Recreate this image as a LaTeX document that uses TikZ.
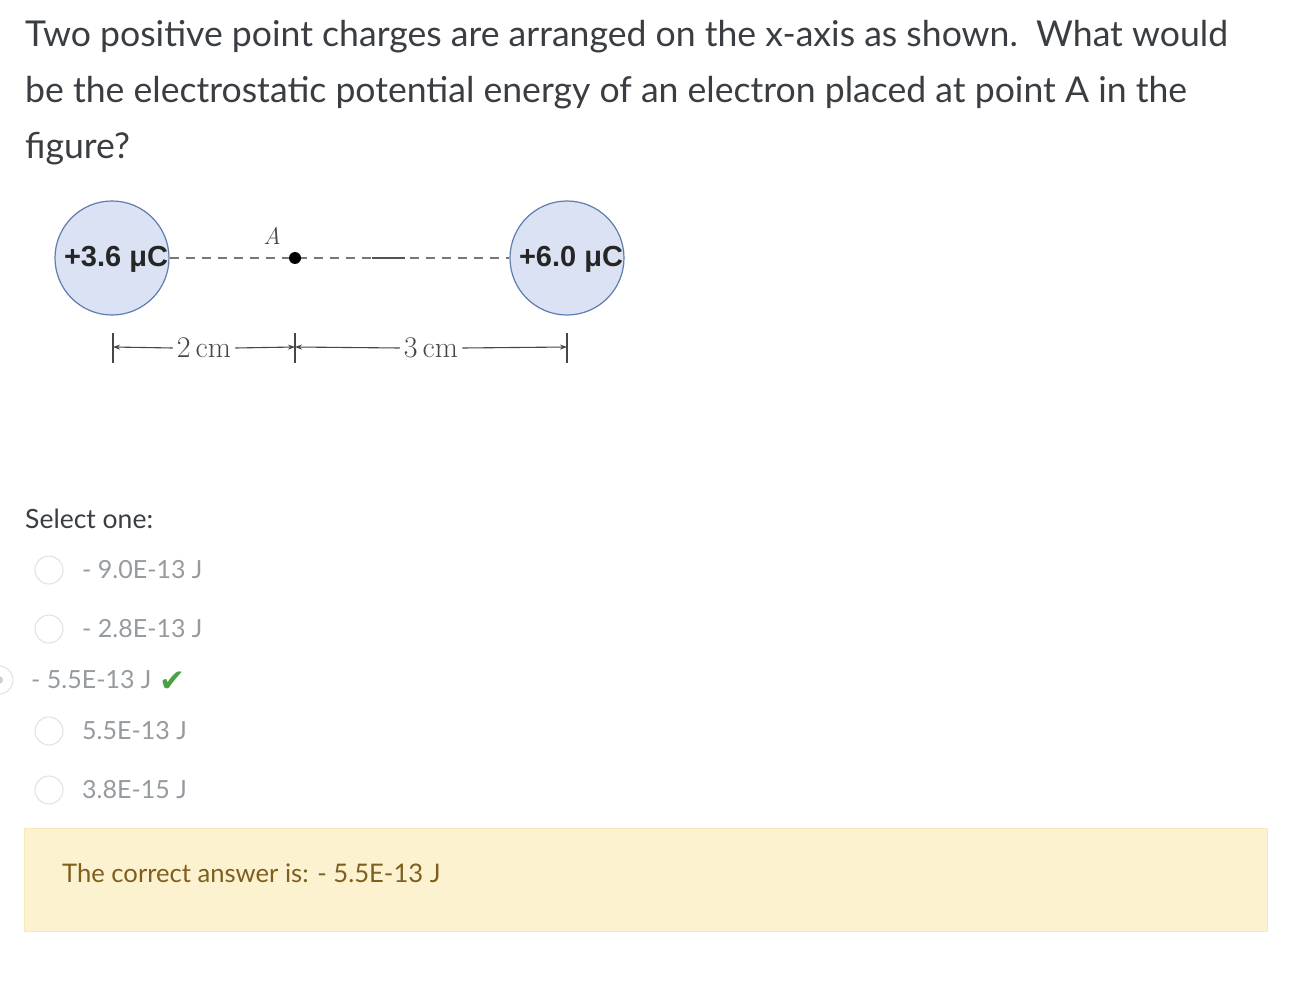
\documentclass[tikz,border=0pt]{standalone}
\usepackage{fontspec}
\setmainfont{Lato}
\newfontfamily\chargefont{Liberation Sans}
\newfontfamily\symfont{DejaVu Sans}
\newfontfamily\lmfont{Latin Modern Roman}
\usetikzlibrary{arrows.meta}
\definecolor{titlecol}{RGB}{58,62,66}
\definecolor{optcol}{RGB}{150,155,160}
\definecolor{circfill}{RGB}{218,226,243}
\definecolor{circdraw}{RGB}{95,125,175}
\definecolor{dashcol}{RGB}{120,120,120}
\definecolor{boxfill}{RGB}{252,242,208}
\definecolor{boxdraw}{RGB}{250,232,185}
\definecolor{anscol}{RGB}{125,95,30}
\definecolor{checkcol}{RGB}{76,160,70}
\definecolor{radiocol}{RGB}{225,225,225}
\definecolor{dimcol}{RGB}{70,70,70}
\tikzset{
  titletext/.style={anchor=base west, inner sep=0pt, text=titlecol, font=\fontsize{35.6}{40}\selectfont},
  opttext/.style={anchor=base west, inner sep=0pt, text=optcol, font=\fontsize{25}{28}\selectfont},
  charge/.style={circle, minimum size=114pt, fill=circfill, draw=circdraw, line width=1.2pt, inner sep=0pt},
  chargelabel/.style={inner sep=0pt, font=\chargefont\bfseries\fontsize{29}{32}\selectfont, text=black!85},
  radio/.style={circle, minimum size=28pt, draw=radiocol, line width=1pt, inner sep=0pt},
  dimlabel/.style={inner sep=0pt, font=\lmfont\fontsize{30}{32}\selectfont, text=dimcol},
  dimline/.style={draw=dimcol, line width=1.1pt},
  tick/.style={draw=dimcol, line width=1.6pt},
}
\begin{document}
\begin{tikzpicture}[x=1pt,y=-1pt]
\useasboundingbox[fill=white] (0,0) rectangle (1290,984);
% title
\node[titletext] (t1) at (25,47) {Two positive point charges are arranged on the x-axis as shown.\ \ What would};
\node[titletext] (t2) at (25,103) {be the electrostatic potential energy of an electron placed at point A in the};
\node[titletext] (t3) at (25,159) {figure?};
% diagram
\node[charge] (q1) at (112,258) {};
\node[charge] (q2) at (567,258) {};
\node[chargelabel] (l1) at (116,259) {+3.6 μC};
\node[chargelabel] (l2) at (571,259) {+6.0 μC};
\coordinate (a) at (295,258);
\draw[dashcol, line width=1.2pt, dash pattern=on 9pt off 7pt] (q1.east) -- (a) -- (q2.west);
\draw[dashcol!70!black, line width=1.6pt] (372,258) -- (405,258);
\fill[black] (a) circle (6pt);
\node[inner sep=0pt, font=\lmfont\itshape\fontsize{24}{26}\selectfont, text=dimcol] (alabel) at (272,236) {A};
% dimensions
\coordinate (d1) at (113,347);
\coordinate (d2) at (295,347);
\coordinate (d3) at (567,347);
\draw[tick] (113,333) -- (113,363);
\draw[tick] (295,333) -- (295,363);
\draw[tick] (567,333) -- (567,363);
\node[dimlabel] (dl1) at (204,348) {2\,cm};
\node[dimlabel] (dl2) at (431,348) {3\,cm};
\draw[dimline, -{Stealth[length=7pt,width=5pt]}] (dl1.west) ++(-4,0) -- (d1);
\draw[dimline, -{Stealth[length=7pt,width=5pt]}] (dl1.east) ++(4,0) -- (d2);
\draw[dimline, -{Stealth[length=7pt,width=5pt]}] (dl2.west) ++(-4,0) -- (d2);
\draw[dimline, -{Stealth[length=7pt,width=5pt]}] (dl2.east) ++(4,0) -- (d3);
% select one
\node[anchor=base west, inner sep=0pt, text=titlecol, font=\fontsize{26.5}{30}\selectfont] (sel) at (25,528) {Select one:};
\node[radio] (r1) at (49,570) {};
\node[radio] (r2) at (49,629) {};
\node[radio] (r3) at (-1,680) {};
\fill[radiocol!80!gray] (r3.center) circle (4pt);
\node[radio] (r4) at (49,731) {};
\node[radio] (r5) at (49,790) {};
\node[opttext] (o1) at (82,578) {- 9.0E-13 J};
\node[opttext] (o2) at (82,637) {- 2.8E-13 J};
\node[opttext] (o3) at (31,688) {- 5.5E-13 J};
\node[anchor=base west, inner sep=0pt, text=checkcol, font=\symfont\fontsize{31}{34}\selectfont] (chk) at (159,691) {✔};
\node[opttext] (o4) at (82,739) {5.5E-13 J};
\node[opttext] (o5) at (82,798) {3.8E-15 J};
% answer box
\node[draw=boxdraw, fill=boxfill, line width=1pt, minimum width=1243pt, minimum height=103pt, anchor=north west, inner sep=0pt] (box) at (24,828) {};
\node[anchor=base west, inner sep=0pt, text=anscol, font=\fontsize{25.6}{28}\selectfont] (ans) at (62,882) {The correct answer is: - 5.5E-13 J};
\end{tikzpicture}
\end{document}
